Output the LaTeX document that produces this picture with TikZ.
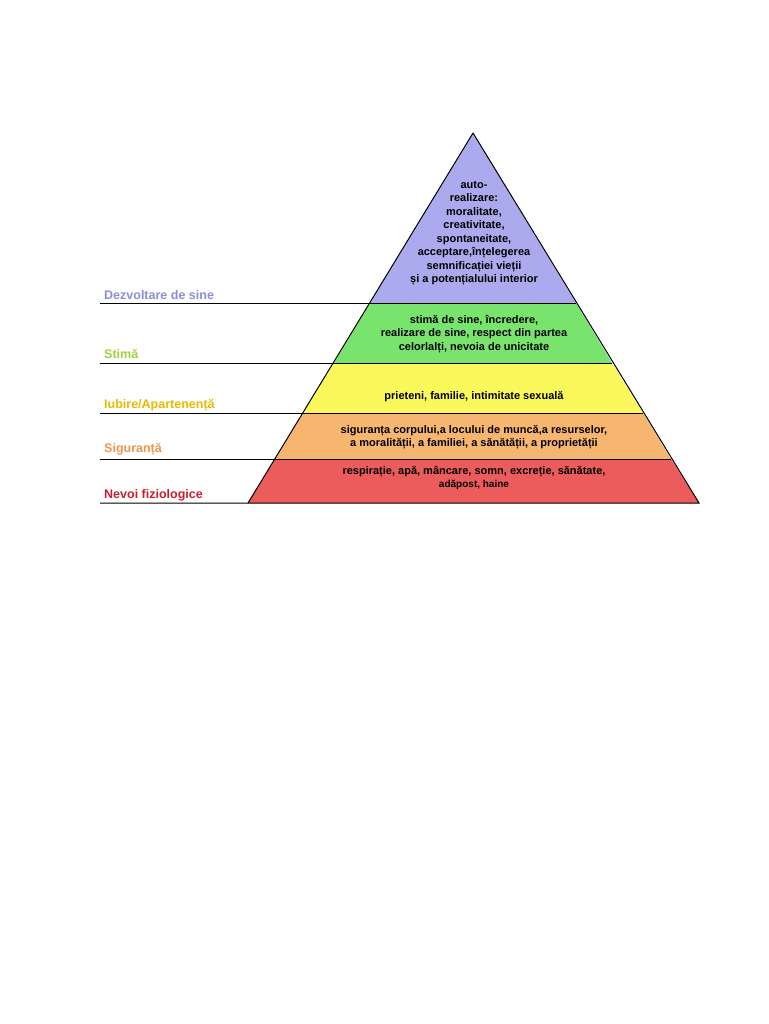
\documentclass[tikz,border=0pt]{standalone}
\usepackage{fontspec}
\setmainfont{Liberation Sans}
\begin{document}
\begin{tikzpicture}[x=1pt,y=-1pt,
  lay/.style={draw=black,line width=1pt},
  txt/.style={font=\bfseries\fontsize{11}{13.5}\selectfont,align=center,inner sep=0},
  lab/.style={font=\bfseries\fontsize{12.5}{14}\selectfont,anchor=base west,inner sep=0}]
\useasboundingbox (0,0) rectangle (768,1024);
\definecolor{cA}{RGB}{172,170,238}
\definecolor{cB}{RGB}{120,228,110}
\definecolor{cC}{RGB}{250,248,90}
\definecolor{cD}{RGB}{246,182,112}
\definecolor{cE}{RGB}{236,92,92}
\coordinate (ap) at (473,133);
\fill[cA] (ap) -- (576,303) -- (370,303) -- cycle;
\fill[cB] (370,303) -- (576,303) -- (612,363) -- (334,363) -- cycle;
\fill[cC] (334,363) -- (612,363) -- (643,413) -- (303,413) -- cycle;
\fill[cD] (303,413) -- (643,413) -- (671,459) -- (275,459) -- cycle;
\fill[cE] (275,459) -- (671,459) -- (699,503) -- (248,503) -- cycle;
\draw[lay] (ap) -- (699,503) -- (100,503);
\draw[lay] (ap) -- (248,503);
\draw[lay] (100,303) -- (576,303);
\draw[lay] (100,363) -- (612,363);
\draw[lay] (100,413) -- (643,413);
\draw[lay] (100,459) -- (671,459);
\node[txt] (t1) at (474,233) {auto-\\realizare:\\moralitate,\\creativitate,\\spontaneitate,\\acceptare,înțelegerea\\semnificației vieții\\și a potențialului interior};
\node[txt] (t2) at (474,334) {stimă de sine, încredere,\\realizare de sine, respect din partea\\celorlalți, nevoia de unicitate};
\node[txt] (t3) at (474,397) {prieteni, familie, intimitate sexuală};
\node[txt] (t4) at (474,437) {siguranța corpului,a locului de muncă,a resurselor,\\a moralității, a familiei, a sănătății, a proprietății};
\node[txt] (t5) at (474,478) {respirație, apă, mâncare, somn, excreție, sănătate,\\{\fontsize{10}{12}\selectfont adăpost, haine}};
\node[lab,text={rgb,255:red,140;green,140;blue,220}] (l1) at (104,299) {Dezvoltare de sine};
\node[lab,text={rgb,255:red,160;green,210;blue,60}] (l2) at (104,358) {Stimă};
\node[lab,text={rgb,255:red,232;green,186;blue,0}] (l3) at (104,408) {Iubire/Apartenență};
\node[lab,text={rgb,255:red,240;green,150;blue,80}] (l4) at (104,452) {Siguranță};
\node[lab,text={rgb,255:red,200;green,30;blue,50}] (l5) at (104,498) {Nevoi fiziologice};
\end{tikzpicture}
\end{document}
